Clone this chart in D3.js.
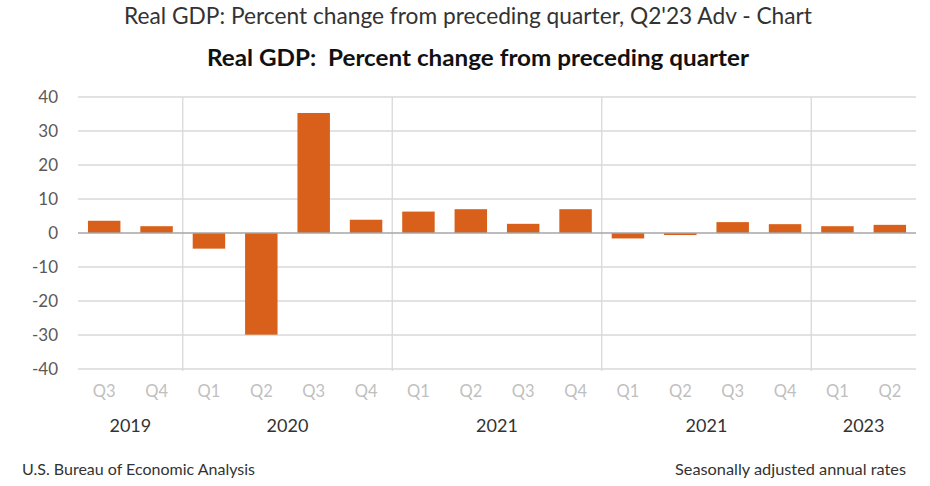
<!DOCTYPE html>
<html>
<head>
<meta charset="utf-8">
<script src="https://cdn.jsdelivr.net/npm/d3@7"></script>
<style>
  body { margin: 0; background: #fff; }
  text { font-family: Lato, "Open Sans", sans-serif; }
</style>
</head>
<body>
<div id="chart"></div>
<script>
// Data
const quarters = ["Q3", "Q4", "Q1", "Q2", "Q3", "Q4", "Q1", "Q2", "Q3", "Q4", "Q1", "Q2", "Q3", "Q4", "Q1", "Q2"];
const values = [3.6, 2.0, -4.6, -29.9, 35.3, 3.9, 6.3, 7.0, 2.7, 7.0, -1.6, -0.6, 3.2, 2.6, 2.0, 2.4];
const years = ["2019", "2020", "2021", "2021", "2023"];
const yearSpans = [[0, 1], [2, 5], [6, 9], [10, 13], [14, 15]];
const yTicks = [40, 30, 20, 10, 0, -10, -20, -30, -40];

const width = 930, height = 486;
const margin = { top: 97, right: 14, bottom: 117, left: 78 };

const svg = d3.select("#chart").append("svg")
    .attr("width", width)
    .attr("height", height);

const idx = d3.range(values.length);

const x = d3.scaleBand()
    .domain(idx)
    .range([margin.left, width - margin.right])
    .paddingInner(0.38)
    .paddingOuter(0.19);

const y = d3.scaleLinear()
    .domain([-40, 40])
    .range([height - margin.bottom, margin.top]);

// Titles
svg.append("text")
    .attr("x", 468).attr("y", 24)
    .attr("text-anchor", "middle")
    .attr("font-size", 23)
    .attr("fill", "#333")
    .attr("textLength", 688)
    .attr("lengthAdjust", "spacingAndGlyphs")
    .text("Real GDP: Percent change from preceding quarter, Q2'23 Adv - Chart");

svg.append("text")
    .attr("x", 478).attr("y", 66)
    .attr("text-anchor", "middle")
    .attr("font-size", 22)
    .attr("font-weight", "bold")
    .attr("fill", "#111")
    .attr("textLength", 542)
    .attr("lengthAdjust", "spacingAndGlyphs")
    .style("white-space", "pre")
    .text("Real GDP:  Percent change from preceding quarter");

// Horizontal gridlines
svg.append("g").selectAll("line")
    .data(yTicks.filter(d => d !== 0))
    .enter().append("line")
    .attr("x1", margin.left).attr("x2", width - margin.right)
    .attr("y1", d => y(d)).attr("y2", d => y(d))
    .attr("stroke", "#d9d9d9")
    .attr("stroke-width", 1.3);

// Year separators
const sepIdx = yearSpans.slice(1).map(s => s[0]);
const step = x.step();
svg.append("g").selectAll("line")
    .data(sepIdx)
    .enter().append("line")
    .attr("x1", d => x(d) - step * x.paddingInner() / 2)
    .attr("x2", d => x(d) - step * x.paddingInner() / 2)
    .attr("y1", y(40)).attr("y2", y(-40) + 2)
    .attr("stroke", "#d9d9d9")
    .attr("stroke-width", 1.3);

// Y tick labels
svg.append("g").selectAll("text")
    .data(yTicks)
    .enter().append("text")
    .attr("x", 58)
    .attr("y", d => y(d) + 6)
    .attr("text-anchor", "end")
    .attr("font-size", 17)
    .attr("fill", "#595959")
    .text(d => d);

// Bars
svg.append("g").selectAll("rect")
    .data(values)
    .enter().append("rect")
    .attr("x", (d, i) => x(i))
    .attr("width", x.bandwidth())
    .attr("y", d => y(Math.max(0, d)))
    .attr("height", d => Math.abs(y(d) - y(0)))
    .attr("fill", "#d9601a");

// Zero line
svg.append("line")
    .attr("x1", margin.left).attr("x2", width - margin.right)
    .attr("y1", y(0)).attr("y2", y(0))
    .attr("stroke", "#a6a6a6")
    .attr("stroke-width", 1.3);

// Quarter labels
svg.append("g").selectAll("text")
    .data(quarters)
    .enter().append("text")
    .attr("x", (d, i) => x(i) + x.bandwidth() / 2)
    .attr("y", 397)
    .attr("text-anchor", "middle")
    .attr("font-size", 16.5)
    .attr("fill", "#bfbfbf")
    .text(d => d);

// Year labels
svg.append("g").selectAll("text")
    .data(years)
    .enter().append("text")
    .attr("x", (d, i) => {
        const s = yearSpans[i];
        return (x(s[0]) + x(s[1]) + x.bandwidth()) / 2;
    })
    .attr("y", 432)
    .attr("text-anchor", "middle")
    .attr("font-size", 18)
    .attr("fill", "#333")
    .text(d => d);

// Footer
svg.append("text")
    .attr("x", 22).attr("y", 475)
    .attr("font-size", 15)
    .attr("fill", "#333")
    .attr("textLength", 233)
    .attr("lengthAdjust", "spacingAndGlyphs")
    .text("U.S. Bureau of Economic Analysis");

svg.append("text")
    .attr("x", 906).attr("y", 475)
    .attr("text-anchor", "end")
    .attr("font-size", 15)
    .attr("fill", "#333")
    .attr("textLength", 231)
    .attr("lengthAdjust", "spacingAndGlyphs")
    .text("Seasonally adjusted annual rates");
</script>
</body>
</html>
